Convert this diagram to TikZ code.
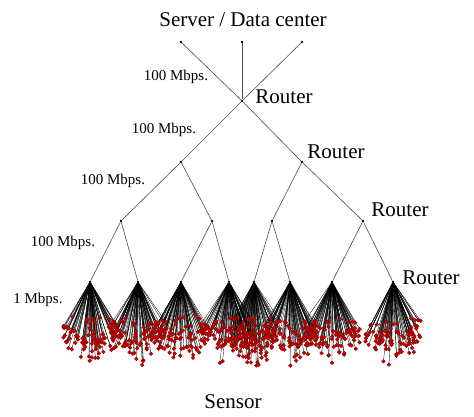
\documentclass[tikz,border=0pt]{standalone}
\usepackage{fontspec}
\setmainfont{Liberation Serif}
\begin{document}
\begin{tikzpicture}[x=1pt,y=-1pt,
  rt/.style={circle,fill=black,inner sep=0pt,minimum size=2.6pt},
  lnk/.style={draw=black!70,line width=0.6pt},
  fanline/.style={draw=black,line width=0.32pt},
  sensor/.style={circle,fill=red!80!black,draw=black!50!red,line width=0.3pt,inner sep=0pt,minimum size=3.8pt},
  lbl/.style={font=\fontsize{15}{15}\selectfont},
  big/.style={font=\fontsize{21}{21}\selectfont}]
\useasboundingbox (0,0) rectangle (474,417);
\fill[white] (0,0) rectangle (474,417);
% routers
\node[rt] (s1) at (181,42) {};
\node[rt] (s2) at (242,42) {};
\node[rt] (s3) at (302,42) {};
\node[rt] (r0) at (242,101) {};
\node[rt] (a1) at (181,162) {};
\node[rt] (a2) at (302,162) {};
\node[rt] (b1) at (121,221) {};
\node[rt] (b2) at (212,221) {};
\node[rt] (b3) at (272,221) {};
\node[rt] (b4) at (363,221) {};
\foreach \n/\x in {c1/90,c2/138,c3/181,c4/229,c5/254,c6/290,c7/332,c8/393}
  \node[rt] (\n) at (\x,282) {};
% links
\foreach \u/\v in {s1/r0,s2/r0,s3/r0,r0/a1,r0/a2,a1/b1,a1/b2,a2/b3,a2/b4,
  b1/c1,b1/c2,b2/c3,b2/c4,b3/c5,b3/c6,b4/c7,b4/c8}
  \draw[lnk] (\u) -- (\v);
% sensor fans
\pgfmathsetseed{7}
\foreach \c/\x in {c1/90,c2/138,c3/181,c4/229,c5/254,c6/290,c7/332,c8/393}{
  \foreach \k in {1,...,90}{
    \pgfmathsetmacro\rx{rand}
    \pgfmathsetmacro\ry{(rnd+rnd)/2}
    \pgfmathsetmacro\dx{28*\rx}
    \pgfmathsetmacro\dy{32+(58-24*abs(\rx))*\ry}
    \coordinate (\c-\k) at ({\x+\dx},{282+\dy});
    \draw[fanline] (\c) -- (\c-\k);
  }
}
\foreach \c in {c1,c2,c3,c4,c5,c6,c7,c8}
  \foreach \k in {1,...,90}
    \node[sensor] (\c-d\k) at (\c-\k) {};
% labels
\node[big] (tS) at (243,20) {Server / Data center};
\node[big] (tR1) at (284,97) {Router};
\node[big] (tR2) at (336,152) {Router};
\node[big] (tR3) at (400,210) {Router};
\node[big] (tR4) at (431,278) {Router};
\node[lbl] (m1) at (176,77) {100 Mbps.};
\node[lbl] (m2) at (164,130) {100 Mbps.};
\node[lbl] (m3) at (113,181) {100 Mbps.};
\node[lbl] (m4) at (63,243) {100 Mbps.};
\node[lbl] (m5) at (38,300) {1 Mbps.};
\node[big] (tSe) at (233,402) {Sensor};
\end{tikzpicture}
\end{document}
